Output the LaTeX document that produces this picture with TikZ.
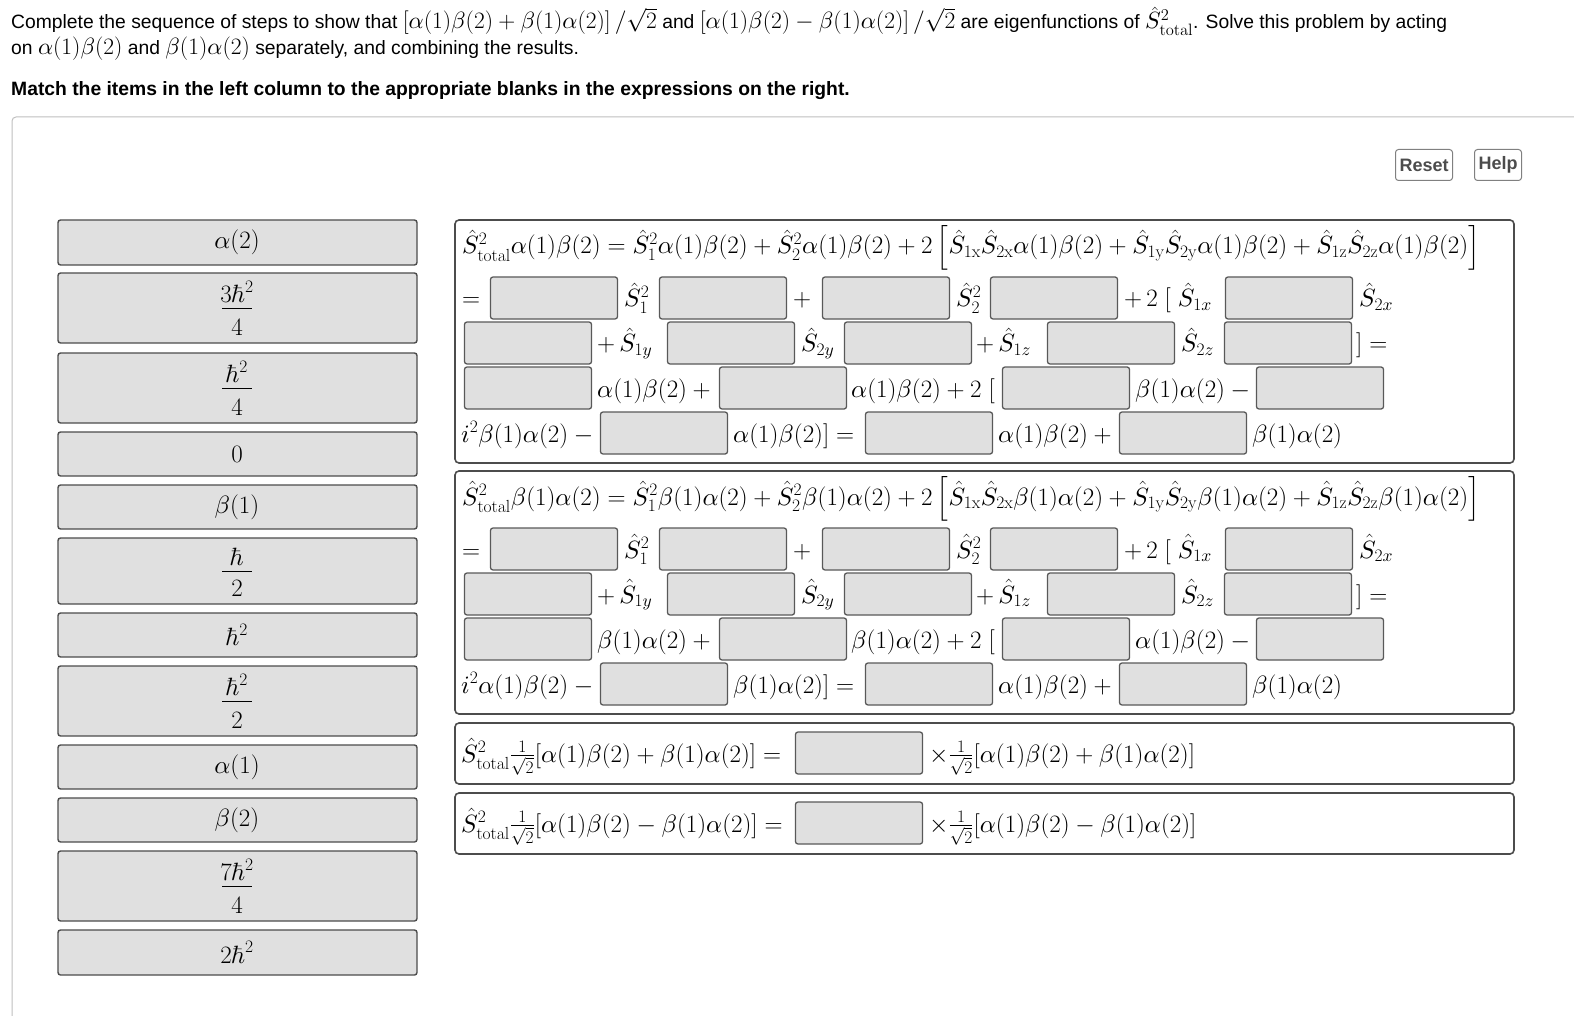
\RequirePackage{fix-cm}
\documentclass[tikz,border=0pt]{standalone}
\usepackage{amsmath}
\usepackage[no-math]{fontspec}
\setmainfont{Liberation Sans}
\DeclareFontShape{OML}{cmm}{m}{it}{<->cmmi10}{}
\DeclareFontShape{OMS}{cmsy}{m}{n}{<->cmsy10}{}
\newcommand\myab{\alpha(1)\beta(2)}
\newcommand\myba{\beta(1)\alpha(2)}
\newcommand\Sh[1]{\hat{S}_{#1}}
\newcommand\Ssq[1]{\hat{S}^{2}_{#1}}
\newcommand\mfont{\fontsize{25}{29}\selectfont}
\newcommand\hm[1]{{\fontsize{23.5}{24}\selectfont$#1$}}
\tikzset{
 blank/.style={draw=black!65,fill=black!12,line width=1.3pt,rounded corners=2.5pt,minimum width=127pt,minimum height=42pt,inner sep=0},
 mt/.style={anchor=base west,inner sep=0,font=\mfont},
 panel/.style={draw=black!70,line width=1.6pt,rounded corners=4pt},
 item/.style={draw=black!70,fill=black!12,line width=1.4pt,rounded corners=2.5pt},
 hdr/.style={anchor=base west,inner sep=0,font=\fontsize{19.3}{22}\selectfont},
 btn/.style={draw=black!50,rounded corners=3pt,line width=1pt,font=\bfseries\fontsize{18}{22}\selectfont,text=black!70,inner sep=4pt,minimum height=31pt}
}
% #1 suffix, #2 yoff, #3 A, #4 B
\newcommand\mypanel[4]{
\begin{scope}[yshift=-#2pt]
\draw[panel] (455,220) rectangle (1514,463);
\node[mt] (t0#1) at (462,254) {$\Ssq{\mathrm{total}}#3=\Ssq{1}#3+\Ssq{2}#3+2\left[\Sh{1\mathrm{x}}\Sh{2\mathrm{x}}#3+\Sh{1\mathrm{y}}\Sh{2\mathrm{y}}#3+\Sh{1\mathrm{z}}\Sh{2\mathrm{z}}#3\right]$};
% row1
\node[mt] (r1a#1) at (462,307) {$=$};
\node[blank] (b11#1) at (554,298) {};
\node[mt] (r1b#1) at (624,307) {$\Ssq{1}$};
\node[blank] (b12#1) at (723,298) {};
\node[mt] (r1c#1) at (793,307) {$+$};
\node[blank] (b13#1) at (886,298) {};
\node[mt] (r1d#1) at (956,307) {$\Ssq{2}$};
\node[blank] (b14#1) at (1054,298) {};
\node[mt] (r1e#1) at (1124,307) {$+\,2\;[\;\Sh{1x}$};
\node[blank] (b15#1) at (1289,298) {};
\node[mt] (r1f#1) at (1359,307) {$\Sh{2x}$};
% row2
\node[blank] (b21#1) at (528,343) {};
\node[mt] (r2a#1) at (597,352) {$+\,\Sh{1y}$};
\node[blank] (b22#1) at (731,343) {};
\node[mt] (r2b#1) at (801,352) {$\Sh{2y}$};
\node[blank] (b23#1) at (908,343) {};
\node[mt] (r2c#1) at (976,352) {$+\,\Sh{1z}$};
\node[blank] (b24#1) at (1111,343) {};
\node[mt] (r2d#1) at (1181,352) {$\Sh{2z}$};
\node[blank] (b25#1) at (1288,343) {};
\node[mt] (r2e#1) at (1356,352) {$]=$};
% row3
\node[blank] (b31#1) at (528,388) {};
\node[mt] (r3a#1) at (597,397) {$#3+{}$};
\node[blank] (b32#1) at (783,388) {};
\node[mt] (r3b#1) at (851,397) {$#3+2\;[$};
\node[blank] (b33#1) at (1066,388) {};
\node[mt] (r3c#1) at (1135,397) {$#4-{}$};
\node[blank] (b34#1) at (1320,388) {};
% row4
\node[mt] (r4a#1) at (461,442) {$i^2#4-{}$};
\node[blank] (b41#1) at (664,433) {};
\node[mt] (r4b#1) at (733,442) {$#3]={}$};
\node[blank] (b42#1) at (929,433) {};
\node[mt] (r4c#1) at (998,442) {$\myab+{}$};
\node[blank] (b43#1) at (1183,433) {};
\node[mt] (r4d#1) at (1252,442) {$\myba$};
\end{scope}}
\newcommand\mysmall[4]{
\draw[panel] (455,#2) rectangle (1514,#2+61);
\node[mt] (sa#1) at (461,#2+39) {$\Ssq{\mathrm{total}}\tfrac{1}{\sqrt2}[\myab#3\myba]=$};
\node[blank] (sb#1) at (859,#2+30) {};
\node[mt] (sc#1) at (929,#2+39) {$\times\tfrac{1}{\sqrt2}[\myab#3\myba]$};
}
\newcommand\itemA[4]{% name, top, bottom, label
\draw[item] (58,#2) rectangle (417,#3);
\node[font=\mfont,inner sep=0] (#1) at (237,{(#2+#3)/2}) {$#4$};}
\newcommand\itemF[5]{% name, top, bottom, num, den
\draw[item] (58,#2) rectangle (417,#3);
\node[font=\mfont,inner sep=0] (#1n) at (237,#2+19) {$#4$};
\node[font=\mfont,inner sep=0] (#1d) at (237,#3-16) {$#5$};
\draw[line width=0.8pt] (222,{(#2+#3)/2}) -- (252,{(#2+#3)/2});}
\begin{document}
\begin{tikzpicture}[x=1pt,y=-1pt]
\useasboundingbox (0,0) rectangle (1574,1016);
\node[hdr] (h1) at (11,29) {Complete the sequence of steps to show that \hm{[\myab+\myba]\,/\sqrt{2}} and \hm{[\myab-\myba]\,/\sqrt{2}} are eigenfunctions of \hm{\Ssq{\mathrm{total}}}. Solve this problem by acting};
\node[hdr] (h2) at (11,55) {on \hm{\myab} and \hm{\myba} separately, and combining the results.};
\node[hdr,font=\bfseries\fontsize{19.3}{22}\selectfont] (h3) at (11,96) {Match the items in the left column to the appropriate blanks in the expressions on the right.};
\draw[draw=black!25,line width=1pt,rounded corners=4pt] (12,1030) -- (12,117) -- (1580,117);
\node[btn] (reset) at (1424,165) {Reset};
\node[btn] (help) at (1498,165) {Help};
\mypanel{p}{0}{\myab}{\myba}
\mypanel{q}{251}{\myba}{\myab}
\mysmall{s}{723}{+}{}
\mysmall{t}{793}{-}{}
\itemA{i1}{220}{265}{\alpha(2)}
\itemF{i2}{273}{343}{3\hbar^2}{4}
\itemF{i3}{353}{423}{\hbar^2}{4}
\itemA{i4}{432}{476}{0}
\itemA{i5}{485}{529}{\beta(1)}
\itemF{i6}{538}{604}{\hbar}{2}
\itemA{i7}{613}{657}{\hbar^2}
\itemF{i8}{666}{736}{\hbar^2}{2}
\itemA{i9}{745}{789}{\alpha(1)}
\itemA{i10}{798}{842}{\beta(2)}
\itemF{i11}{851}{921}{7\hbar^2}{4}
\itemA{i12}{930}{975}{2\hbar^2}
\end{tikzpicture}
\end{document}
